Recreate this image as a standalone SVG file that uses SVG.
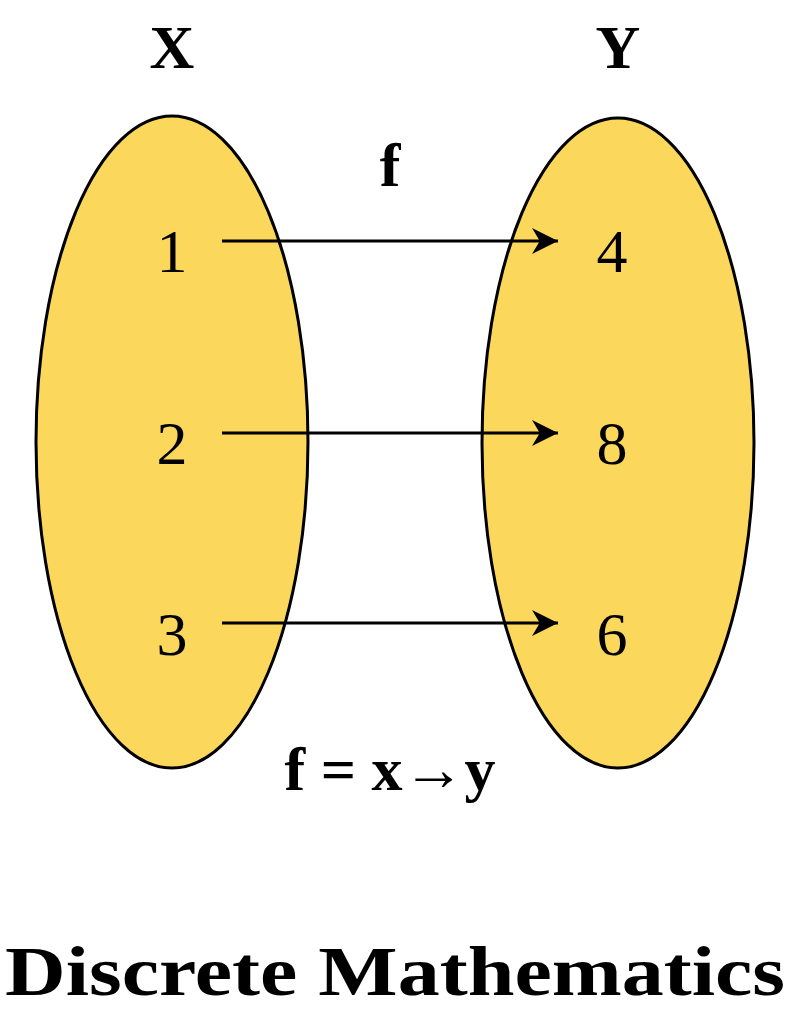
<svg xmlns="http://www.w3.org/2000/svg" width="791" height="1024" viewBox="0 0 791 1024">
<style>
.set{fill:#FBD75B;stroke:#000;stroke-width:3}
.b{font-family:"Liberation Serif",serif;font-weight:bold;text-anchor:middle;fill:#000}
.n{font-family:"Liberation Serif",serif;font-size:62px;text-anchor:middle;fill:#000}
.c{stroke:#000;stroke-width:3;fill:none;marker-end:url(#ah)}
</style>
<defs><marker id="ah" viewBox="0 0 10 10" refX="10" refY="5" markerWidth="9" markerHeight="9" markerUnits="userSpaceOnUse" orient="auto"><path d="M0,0 L10,5 L0,10 L3,5 z" fill="#000" transform="scale(1)"/></marker>
<marker id="ah2" viewBox="0 0 10 10" refX="10" refY="5" markerWidth="26" markerHeight="26" markerUnits="userSpaceOnUse" orient="auto"><path d="M0,0 L10,5 L0,10 L3,5 z" fill="#000"/></marker></defs>
<g id="setX"><ellipse class="set" cx="172" cy="442" rx="136" ry="326"/><text class="b" x="172" y="68" font-size="62">X</text></g>
<g id="setY"><ellipse class="set" cx="618" cy="443" rx="136" ry="325"/><text class="b" x="618" y="68" font-size="62">Y</text></g>
<g id="n1"><text class="n" x="172" y="272">1</text></g>
<g id="n2"><text class="n" x="172" y="464">2</text></g>
<g id="n3"><text class="n" x="172" y="655">3</text></g>
<g id="n4"><text class="n" x="612" y="272">4</text></g>
<g id="n8"><text class="n" x="612" y="464">8</text></g>
<g id="n6"><text class="n" x="612" y="655">6</text></g>
<g id="connectors">
<line x1="222" y1="241" x2="558" y2="241" stroke="#000" stroke-width="3" marker-end="url(#ah2)"/>
<line x1="222" y1="433" x2="558" y2="433" stroke="#000" stroke-width="3" marker-end="url(#ah2)"/>
<line x1="222" y1="623" x2="558" y2="623" stroke="#000" stroke-width="3" marker-end="url(#ah2)"/>
</g>
<text class="b" x="390" y="186" font-size="62">f</text>
<text class="b" x="390" y="790" font-size="62">f = x→y</text>
<text class="b" x="395" y="995" font-size="70" textLength="780" lengthAdjust="spacingAndGlyphs">Discrete Mathematics</text>
</svg>
